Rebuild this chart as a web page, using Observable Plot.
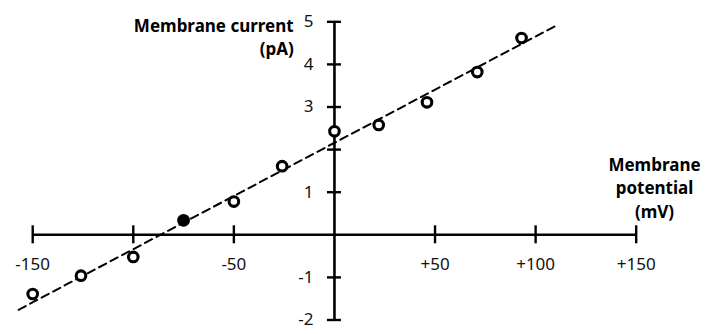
<!DOCTYPE html>
<html>
<head>
<meta charset="utf-8">
<script src="https://cdn.jsdelivr.net/npm/d3@7"></script>
<script src="https://cdn.jsdelivr.net/npm/@observablehq/plot@0.6"></script>
<style>
  html, body { margin: 0; padding: 0; background: #fff; }
  svg { font-family: "Noto Sans", sans-serif; }
</style>
</head>
<body>
<div id="chart"></div>
<script>
// Data
const potentials = [-150, -126, -100, -75, -50, -26, 0, 22, 46, 71, 93];   // mV
const currents   = [-1.39, -0.96, -0.52, 0.34, 0.78, 1.61, 2.43, 2.58, 3.11, 3.82, 4.62]; // pA
const filledFlags = [false, false, false, true, false, false, false, false, false, false, false];

// Dashed fitted line endpoints
const fitX = [-157, 111];
const fitY = [-1.76, 4.93];

// Axis ticks and labels
const xTickValues = [-150, -100, -50, 50, 100, 150];
const xLabelValues = [-150, -50, 50, 100, 150];
const xLabelTexts = ["-150", "-50", "+50", "+100", "+150"];
const yTickValues = [-2, -1, 1, 2, 3, 4, 5];
const yLabelValues = [5, 4, 3, 1, -1, -2];
const yLabelTexts = ["5", "4", "3", "1", "-1", "-2"];

const yTitle = "Membrane current\n(pA)";
const xTitle = "Membrane\npotential\n(mV)";

const points = potentials.map((x, i) => ({x, y: currents[i], filled: filledFlags[i]}));
const fit = fitX.map((x, i) => ({x, y: fitY[i]}));

const chart = Plot.plot({
  width: 707,
  height: 334,
  marginLeft: 32.2,
  marginRight: 71.3,
  marginTop: 21.3,
  marginBottom: 14.5,
  x: {domain: [-150, 150], axis: null},
  y: {domain: [-2, 5], axis: null},
  style: {fontFamily: "'Noto Sans', sans-serif", fontSize: "17px", background: "#fff"},
  marks: [
    // axes lines
    Plot.ruleY([0], {x1: -150, x2: 150, stroke: "#000", strokeWidth: 2.6}),
    Plot.ruleX([0], {y1: -2, y2: 5, stroke: "#000", strokeWidth: 2.6}),
    // tick marks
    Plot.ruleX(xTickValues, {x: d => d, y1: 0, y2: 0, insetTop: -9, insetBottom: -9, stroke: "#000", strokeWidth: 2.4}),
    Plot.ruleY(yTickValues, {y: d => d, x1: 0, x2: 0, insetLeft: -7, insetRight: -7, stroke: "#000", strokeWidth: 2.4}),
    // tick labels
    Plot.text(xLabelValues, {x: d => d, y: 0, text: (d, i) => xLabelTexts[i], dy: 30, fontSize: 17, fill: "#111"}),
    Plot.text(yLabelValues, {x: 0, y: d => d, text: (d, i) => yLabelTexts[i], dx: -21, textAnchor: "end", fontSize: 17, fill: "#111"}),
    // dashed fit line
    Plot.line(fit, {x: "x", y: "y", stroke: "#000", strokeWidth: 2, strokeDasharray: "8,5"}),
    // data points
    Plot.dot(points.filter(d => !d.filled), {x: "x", y: "y", r: 4.8, fill: "#fff", stroke: "#000", strokeWidth: 3.1}),
    Plot.dot(points.filter(d => d.filled), {x: "x", y: "y", r: 6.4, fill: "#000", stroke: "none"}),
    // axis titles
    Plot.text([yTitle], {text: d => d, frameAnchor: "top-left", dx: 261, dy: -7.3, textAnchor: "end", lineAnchor: "top", lineHeight: 1.41, fontWeight: "bold", fontSize: 17, fill: "#000"}),
    Plot.text([xTitle], {text: d => d, frameAnchor: "top-right", dx: 18.3, dy: 131.7, textAnchor: "middle", lineAnchor: "top", lineHeight: 1.41, fontWeight: "bold", fontSize: 17, fill: "#000"})
  ]
});
document.getElementById("chart").appendChild(chart);
</script>
</body>
</html>
